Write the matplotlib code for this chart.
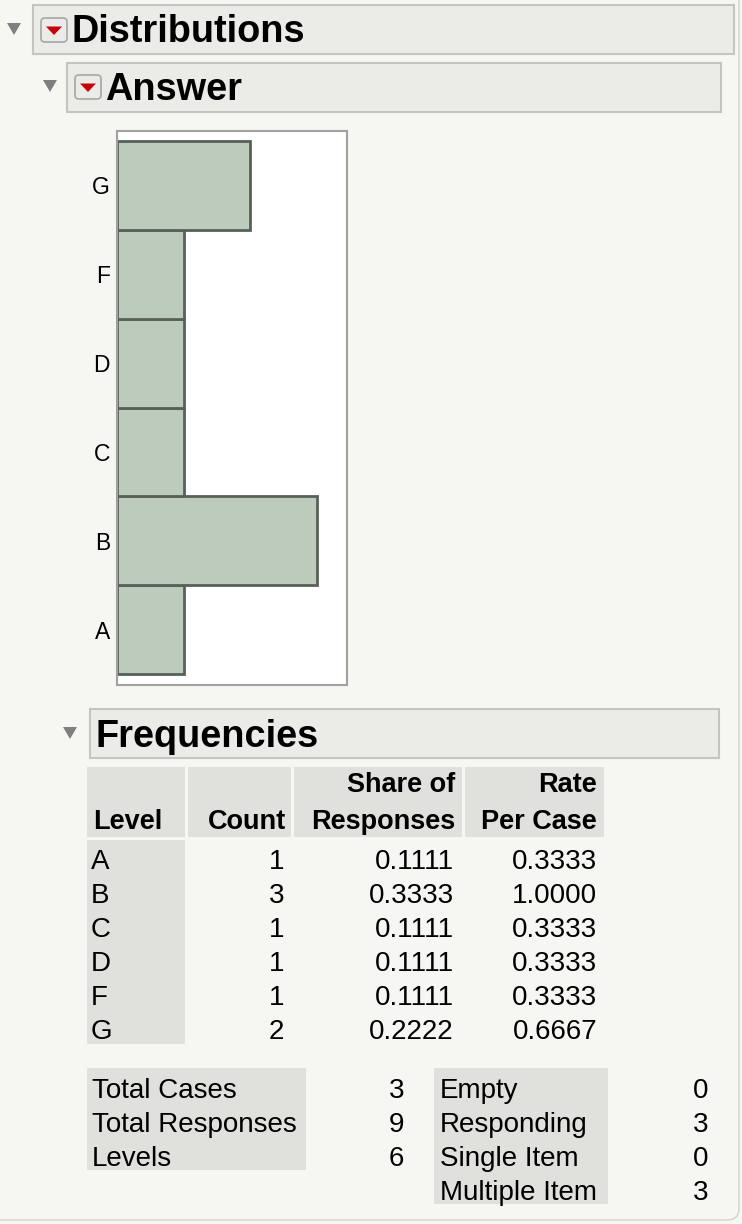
import matplotlib.pyplot as plt
from matplotlib.patches import Rectangle, FancyBboxPatch, Polygon

plt.rcParams['font.family'] = ['Liberation Sans', 'DejaVu Sans']

levels = ['A', 'B', 'C', 'D', 'F', 'G']
counts = [1, 3, 1, 1, 1, 2]
share = ['0.1111', '0.3333', '0.1111', '0.1111', '0.1111', '0.2222']
rate = ['0.3333', '1.0000', '0.3333', '0.3333', '0.3333', '0.6667']

summary_left = ['Total Cases', 'Total Responses', 'Levels']
summary_left_vals = [3, 9, 6]
summary_right = ['Empty', 'Responding', 'Single Item', 'Multiple Item']
summary_right_vals = [0, 3, 0, 3]

W, H = 742, 1224
BG = '#f6f6f2'
HEAD_FILL = '#ebebe7'
HEAD_EDGE = '#c4c4c0'
CELL = '#e0e0dc'

fig = plt.figure(figsize=(W / 100, H / 100), dpi=100, facecolor=BG)
bg = fig.add_axes([0, 0, 1, 1])
bg.set_xlim(0, W)
bg.set_ylim(H, 0)
bg.axis('off')

# outer panel with rounded corner
bg.add_patch(FancyBboxPatch((-20, -20), W - 1 + 20 - 2, H - 2 + 20 - 2,
                            boxstyle='round,pad=0,rounding_size=12',
                            fc=BG, ec='#d2d2ce', lw=1))


def disclosure(x, y):
    bg.add_patch(Polygon([(x, y), (x + 14, y), (x + 7, y + 12)], closed=True,
                         fc='#7f7f7f', ec='none'))


def menu_icon(x, y):
    bg.add_patch(FancyBboxPatch((x, y), 26, 24, boxstyle='round,pad=0,rounding_size=4',
                                fc='#ebebe8', ec='#a6a6a6', lw=1.2))
    bg.add_patch(Polygon([(x + 5, y + 8.5), (x + 21, y + 8.5), (x + 13, y + 17)],
                         closed=True, fc='#c8000a', ec='none'))


HFS = 27.3


def header(x0, y0, x1, y1, text, tx, base):
    bg.add_patch(Rectangle((x0, y0), x1 - x0, y1 - y0, fc=HEAD_FILL, ec=HEAD_EDGE, lw=1.5))
    bg.text(tx, base, text, fontsize=HFS, fontweight='bold', va='baseline', ha='left')


# Distributions header
disclosure(7, 23)
header(33, 5, 734, 54, 'Distributions', 72, 42)
menu_icon(41, 18)

# Answer header
disclosure(43, 80)
header(67, 63, 721, 112, 'Answer', 105, 100)
menu_icon(75, 75)

# bar chart
ax = fig.add_axes([117 / W, 1 - 685 / H, 230 / W, 554 / H])
ax.set_facecolor('white')
ypos = list(range(len(levels)))
ax.barh(ypos, counts, height=1.0, left=0, color='#bccbbc', edgecolor='#586058', linewidth=2)
ax.set_xlim(0, 3.45)
ax.set_ylim(-0.62, 5.61)
ax.set_yticks(ypos)
ax.set_yticklabels(levels, fontsize=16.5)
ax.tick_params(axis='y', length=0, pad=5)
ax.set_xticks([])
for s in ax.spines.values():
    s.set_color('#a0a0a0')
    s.set_linewidth(1.5)

# Frequencies header
disclosure(63, 727)
bg.add_patch(Rectangle((90, 709), 629, 49, fc=HEAD_FILL, ec=HEAD_EDGE, lw=1.5))
bg.text(96, 747, 'Frequencies', fontsize=HFS, fontweight='bold', va='baseline', ha='left')

# table header cells
cols = [(87, 185), (188, 291), (294, 462), (465, 604)]
for x0, x1 in cols:
    bg.add_patch(Rectangle((x0, 767), x1 - x0, 70, fc=CELL, ec='none'))
bg.add_patch(Rectangle((87, 840), 98, 204, fc=CELL, ec='none'))

bfs = 19.5
fs = 20
bg.text(93, 829, 'Level', fontsize=bfs, fontweight='bold', va='baseline', ha='left')
bg.text(286, 829, 'Count', fontsize=bfs, fontweight='bold', va='baseline', ha='right')
bg.text(455, 792, 'Share of', fontsize=bfs, fontweight='bold', va='baseline', ha='right')
bg.text(455, 829, 'Responses', fontsize=bfs, fontweight='bold', va='baseline', ha='right')
bg.text(597, 792, 'Rate', fontsize=bfs, fontweight='bold', va='baseline', ha='right')
bg.text(597, 829, 'Per Case', fontsize=bfs, fontweight='bold', va='baseline', ha='right')

for i, lev in enumerate(levels):
    b = 869 + 34 * i
    bg.text(91, b, lev, fontsize=fs, va='baseline', ha='left')
    bg.text(284, b, str(counts[i]), fontsize=fs, va='baseline', ha='right')
    bg.text(454, b, share[i], fontsize=fs, va='baseline', ha='right')
    bg.text(597, b, rate[i], fontsize=fs, va='baseline', ha='right')

# summary blocks
bg.add_patch(Rectangle((87, 1068), 219, 102, fc=CELL, ec='none'))
bg.add_patch(Rectangle((434, 1068), 174, 136, fc=CELL, ec='none'))
for i, lab in enumerate(summary_left):
    b = 1098 + 34 * i
    bg.text(92, b, lab, fontsize=fs, va='baseline', ha='left')
    bg.text(404, b, str(summary_left_vals[i]), fontsize=fs, va='baseline', ha='right')
for i, lab in enumerate(summary_right):
    b = 1098 + 34 * i
    bg.text(440, b, lab, fontsize=fs, va='baseline', ha='left')
    bg.text(708, b, str(summary_right_vals[i]), fontsize=fs, va='baseline', ha='right')

fig.savefig('out.png', dpi=100, facecolor=BG)
